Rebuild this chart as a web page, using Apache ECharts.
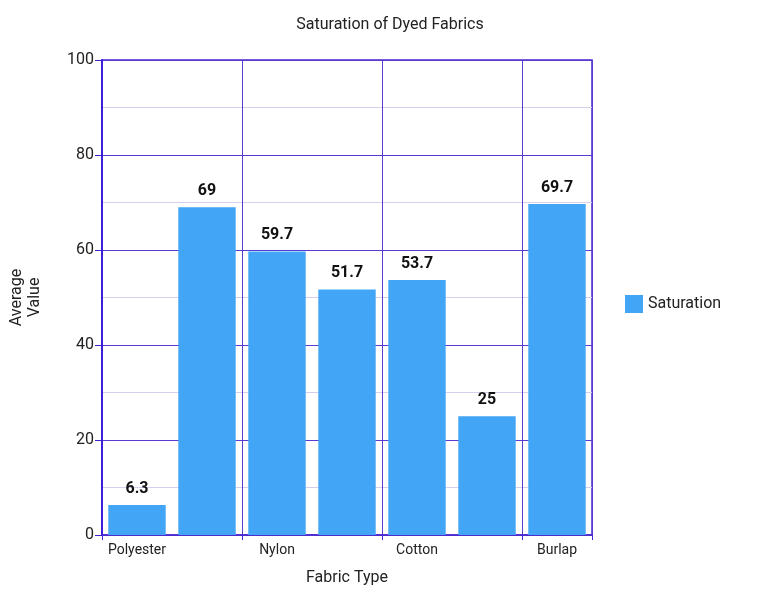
<!DOCTYPE html>
<html><head><meta charset="utf-8">
<script src="https://cdn.jsdelivr.net/npm/echarts@6/dist/echarts.min.js"></script>
<style>html,body{margin:0;padding:0;background:#fff}#c{width:768px;height:592px}</style>
</head><body><div id="c"></div>
<script>
var categories = ["Polyester","Rayon","Nylon","Blend","Cotton","Wool","Burlap"];
var saturation = [6.3,69,59.7,51.7,53.7,25,69.7];
var chart = echarts.init(document.getElementById('c'));
chart.setOption({
  animation:false,
  title:{text:"Saturation of Dyed Fabrics",left:385,top:12,textAlign:'center',textStyle:{fontFamily:'Roboto',fontSize:16,fontWeight:'normal',color:'#222'}},
  legend:{orient:'vertical',left:620,top:290,itemWidth:18,itemHeight:18,icon:'rect',textStyle:{fontFamily:'Roboto',fontSize:16,color:'#222'},data:['Saturation']},
  grid:{left:101,right:176,top:60,bottom:57,show:true,borderColor:'#4a2ad0',borderWidth:1.5},
  xAxis:{type:'category',data:categories,name:'Fabric Type',nameLocation:'middle',nameGap:35,
    nameTextStyle:{fontFamily:'Roboto',fontSize:16,color:'#222'},
    axisLine:{lineStyle:{color:'#4a2ad0',width:1.5}},axisTick:{show:true,length:5,lineStyle:{color:'#4a2ad0'}},
    axisLabel:{fontFamily:'Roboto',fontSize:14,color:'#222'},
    splitLine:{show:true,lineStyle:{color:'#5a3ad0',width:1}}},
  yAxis:{type:'value',min:0,max:100,interval:20,name:'Average\nValue',nameLocation:'middle',nameGap:58,nameRotate:90,
    nameTextStyle:{fontFamily:'Roboto',fontSize:16,color:'#222',lineHeight:18},
    axisLine:{show:true,lineStyle:{color:'#3a20d8',width:2}},axisTick:{show:true,length:7,lineStyle:{color:'#3a20d8'}},
    axisLabel:{fontFamily:'Roboto',fontSize:16,color:'#222'},
    splitLine:{show:true,lineStyle:{color:'#5a3ad0',width:1}},
    minorTick:{show:false,splitNumber:2},
    minorSplitLine:{show:true,lineStyle:{color:'#d6d0f0',width:1}}},
  series:[{name:'Saturation',type:'bar',data:saturation,barWidth:'82%',
    itemStyle:{color:'#42a5f5'},
    label:{show:true,position:'top',distance:8,fontFamily:'Roboto',fontSize:16,fontWeight:'bold',color:'#111'}}]
});
</script></body></html>
